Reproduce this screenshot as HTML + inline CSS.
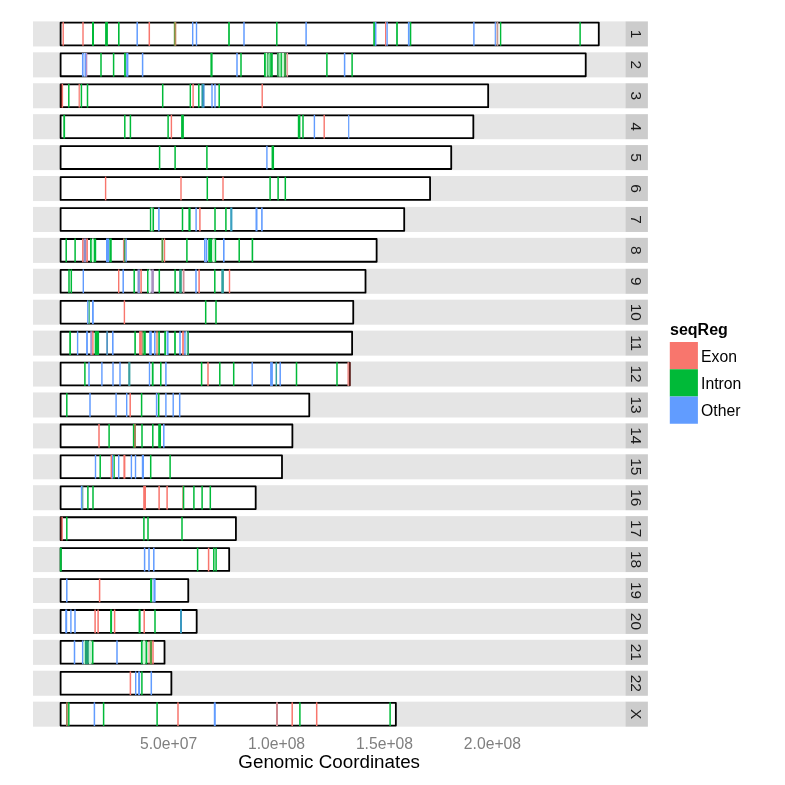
<!DOCTYPE html>
<html><head><meta charset="utf-8"><style>
html,body{margin:0;padding:0;background:#fff;}
body{width:785px;height:785px;overflow:hidden;}
svg{display:block;}
text{font-family:"Liberation Sans",Arial,sans-serif;}
.st{font-size:15.4px;fill:#1a1a1a;text-anchor:middle;dominant-baseline:central;}
.ax{font-size:15.7px;fill:#7F7F7F;text-anchor:middle;}
.ti{font-size:18.8px;fill:#000;text-anchor:middle;}
.lt{font-size:16px;font-weight:bold;fill:#000;}
.ll{font-size:15.75px;fill:#000;}
</style></head><body>
<svg width="785" height="785" viewBox="0 0 785 785">
<rect x="0" y="0" width="785" height="785" fill="#fff"/>
<rect x="33.0" y="21.40" width="592.40" height="25.05" fill="#E5E5E5"/>
<rect x="625.4" y="21.40" width="22.5" height="25.05" fill="#CCCCCC"/>
<text x="636.65" y="33.92" transform="rotate(90 636.65 33.92)" class="st">1</text>
<rect x="60.60" y="22.54" width="538.18" height="22.77" fill="#fff" stroke="#000" stroke-width="1.8" stroke-linejoin="round"/>
<rect x="62.50" y="22.04" width="1.40" height="23.77" fill="#F8766D"/>
<rect x="82.30" y="22.04" width="1.40" height="23.77" fill="#F8766D"/>
<rect x="92.00" y="22.04" width="2.00" height="23.77" fill="#00BA38"/>
<rect x="105.10" y="22.04" width="2.80" height="23.77" fill="#00BA38"/>
<rect x="118.00" y="22.04" width="1.60" height="23.77" fill="#00BA38"/>
<rect x="136.45" y="22.04" width="1.50" height="23.77" fill="#619CFF"/>
<rect x="148.55" y="22.04" width="1.50" height="23.77" fill="#F8766D"/>
<rect x="173.80" y="22.04" width="1.40" height="23.77" fill="#6f9a45"/>
<rect x="174.90" y="22.04" width="1.40" height="23.77" fill="#b98a5a"/>
<rect x="192.00" y="22.04" width="1.40" height="23.77" fill="#619CFF"/>
<rect x="195.80" y="22.04" width="1.40" height="23.77" fill="#619CFF"/>
<rect x="228.15" y="22.04" width="1.70" height="23.77" fill="#00BA38"/>
<rect x="243.25" y="22.04" width="1.50" height="23.77" fill="#619CFF"/>
<rect x="276.05" y="22.04" width="1.50" height="23.77" fill="#00BA38"/>
<rect x="305.35" y="22.04" width="1.50" height="23.77" fill="#619CFF"/>
<rect x="373.25" y="22.04" width="1.70" height="23.77" fill="#00BA38"/>
<rect x="374.95" y="22.04" width="1.50" height="23.77" fill="#619CFF"/>
<rect x="385.00" y="22.04" width="1.20" height="23.77" fill="#F8766D"/>
<rect x="386.40" y="22.04" width="1.40" height="23.77" fill="#619CFF"/>
<rect x="396.15" y="22.04" width="1.70" height="23.77" fill="#00BA38"/>
<rect x="407.90" y="22.04" width="1.80" height="23.77" fill="#619CFF"/>
<rect x="409.90" y="22.04" width="1.40" height="23.77" fill="#00BA38"/>
<rect x="473.20" y="22.04" width="1.40" height="23.77" fill="#619CFF"/>
<rect x="494.70" y="22.04" width="1.20" height="23.77" fill="#619CFF"/>
<rect x="496.50" y="22.04" width="1.80" height="23.77" fill="#c79a95"/>
<rect x="499.90" y="22.04" width="1.40" height="23.77" fill="#00BA38"/>
<rect x="579.35" y="22.04" width="1.50" height="23.77" fill="#00BA38"/>
<rect x="33.0" y="52.32" width="592.40" height="25.05" fill="#E5E5E5"/>
<rect x="625.4" y="52.32" width="22.5" height="25.05" fill="#CCCCCC"/>
<text x="636.65" y="64.84" transform="rotate(90 636.65 64.84)" class="st">2</text>
<rect x="60.60" y="53.46" width="525.12" height="22.77" fill="#fff" stroke="#000" stroke-width="1.8" stroke-linejoin="round"/>
<rect x="81.95" y="52.96" width="1.70" height="23.77" fill="#619CFF"/>
<rect x="83.70" y="52.96" width="1.40" height="23.77" fill="#b8d0ff"/>
<rect x="85.00" y="52.96" width="1.20" height="23.77" fill="#619CFF"/>
<rect x="85.90" y="52.96" width="1.40" height="23.77" fill="#b58fc7"/>
<rect x="100.25" y="52.96" width="1.50" height="23.77" fill="#00BA38"/>
<rect x="112.85" y="52.96" width="1.50" height="23.77" fill="#00BA38"/>
<rect x="124.10" y="52.96" width="1.80" height="23.77" fill="#00BA38"/>
<rect x="126.20" y="52.96" width="2.20" height="23.77" fill="#619CFF"/>
<rect x="141.85" y="52.96" width="1.50" height="23.77" fill="#619CFF"/>
<rect x="210.40" y="52.96" width="2.20" height="23.77" fill="#00BA38"/>
<rect x="236.25" y="52.96" width="1.50" height="23.77" fill="#619CFF"/>
<rect x="240.25" y="52.96" width="1.50" height="23.77" fill="#00BA38"/>
<rect x="264.00" y="52.96" width="2.00" height="23.77" fill="#00BA38"/>
<rect x="265.80" y="52.96" width="1.60" height="23.77" fill="#c8f4d2"/>
<rect x="267.20" y="52.96" width="1.20" height="23.77" fill="#30a050"/>
<rect x="268.40" y="52.96" width="1.80" height="23.77" fill="#70e090"/>
<rect x="270.20" y="52.96" width="2.60" height="23.77" fill="#00BA38"/>
<rect x="276.95" y="52.96" width="1.90" height="23.77" fill="#30a050"/>
<rect x="278.80" y="52.96" width="2.20" height="23.77" fill="#90eca8"/>
<rect x="280.80" y="52.96" width="1.20" height="23.77" fill="#00BA38"/>
<rect x="281.90" y="52.96" width="2.20" height="23.77" fill="#c8f4d2"/>
<rect x="284.10" y="52.96" width="2.20" height="23.77" fill="#30a040"/>
<rect x="286.55" y="52.96" width="1.50" height="23.77" fill="#f0a0a0"/>
<rect x="326.15" y="52.96" width="1.50" height="23.77" fill="#00BA38"/>
<rect x="343.85" y="52.96" width="1.50" height="23.77" fill="#619CFF"/>
<rect x="351.35" y="52.96" width="1.50" height="23.77" fill="#00BA38"/>
<rect x="33.0" y="83.24" width="592.40" height="25.05" fill="#E5E5E5"/>
<rect x="625.4" y="83.24" width="22.5" height="25.05" fill="#CCCCCC"/>
<text x="636.65" y="95.77" transform="rotate(90 636.65 95.77)" class="st">3</text>
<rect x="60.60" y="84.38" width="427.57" height="22.77" fill="#fff" stroke="#000" stroke-width="1.8" stroke-linejoin="round"/>
<rect x="60.65" y="83.88" width="1.70" height="23.77" fill="#5a1a15"/>
<rect x="61.90" y="83.88" width="1.20" height="23.77" fill="#F8766D"/>
<rect x="68.05" y="83.88" width="1.50" height="23.77" fill="#00BA38"/>
<rect x="78.60" y="83.88" width="1.20" height="23.77" fill="#F8766D"/>
<rect x="80.65" y="83.88" width="1.50" height="23.77" fill="#00BA38"/>
<rect x="86.75" y="83.88" width="1.50" height="23.77" fill="#00BA38"/>
<rect x="161.95" y="83.88" width="1.50" height="23.77" fill="#00BA38"/>
<rect x="189.60" y="83.88" width="1.40" height="23.77" fill="#00BA38"/>
<rect x="192.40" y="83.88" width="1.40" height="23.77" fill="#F8766D"/>
<rect x="198.05" y="83.88" width="1.50" height="23.77" fill="#00BA38"/>
<rect x="201.45" y="83.88" width="1.70" height="23.77" fill="#2a9a9a"/>
<rect x="202.85" y="83.88" width="1.70" height="23.77" fill="#3e8fd0"/>
<rect x="211.30" y="83.88" width="1.40" height="23.77" fill="#619CFF"/>
<rect x="214.30" y="83.88" width="1.40" height="23.77" fill="#619CFF"/>
<rect x="218.45" y="83.88" width="1.50" height="23.77" fill="#00BA38"/>
<rect x="261.50" y="83.88" width="1.40" height="23.77" fill="#F8766D"/>
<rect x="33.0" y="114.16" width="592.40" height="25.05" fill="#E5E5E5"/>
<rect x="625.4" y="114.16" width="22.5" height="25.05" fill="#CCCCCC"/>
<text x="636.65" y="126.69" transform="rotate(90 636.65 126.69)" class="st">4</text>
<rect x="60.60" y="115.30" width="412.74" height="22.77" fill="#fff" stroke="#000" stroke-width="1.8" stroke-linejoin="round"/>
<rect x="63.30" y="114.80" width="1.80" height="23.77" fill="#00BA38"/>
<rect x="124.05" y="114.80" width="1.50" height="23.77" fill="#00BA38"/>
<rect x="129.65" y="114.80" width="1.50" height="23.77" fill="#00BA38"/>
<rect x="167.35" y="114.80" width="1.50" height="23.77" fill="#00BA38"/>
<rect x="170.70" y="114.80" width="1.40" height="23.77" fill="#F8766D"/>
<rect x="181.10" y="114.80" width="2.80" height="23.77" fill="#00BA38"/>
<rect x="297.80" y="114.80" width="2.60" height="23.77" fill="#00BA38"/>
<rect x="302.25" y="114.80" width="1.50" height="23.77" fill="#00BA38"/>
<rect x="313.70" y="114.80" width="1.40" height="23.77" fill="#619CFF"/>
<rect x="323.50" y="114.80" width="1.40" height="23.77" fill="#F8766D"/>
<rect x="348.10" y="114.80" width="1.20" height="23.77" fill="#619CFF"/>
<rect x="33.0" y="145.08" width="592.40" height="25.05" fill="#E5E5E5"/>
<rect x="625.4" y="145.08" width="22.5" height="25.05" fill="#CCCCCC"/>
<text x="636.65" y="157.61" transform="rotate(90 636.65 157.61)" class="st">5</text>
<rect x="60.60" y="146.22" width="390.63" height="22.77" fill="#fff" stroke="#000" stroke-width="1.8" stroke-linejoin="round"/>
<rect x="158.85" y="145.72" width="1.50" height="23.77" fill="#00BA38"/>
<rect x="174.35" y="145.72" width="1.50" height="23.77" fill="#00BA38"/>
<rect x="206.15" y="145.72" width="1.50" height="23.77" fill="#00BA38"/>
<rect x="266.20" y="145.72" width="1.40" height="23.77" fill="#619CFF"/>
<rect x="271.55" y="145.72" width="2.50" height="23.77" fill="#00BA38"/>
<rect x="33.0" y="176.00" width="592.40" height="25.05" fill="#E5E5E5"/>
<rect x="625.4" y="176.00" width="22.5" height="25.05" fill="#CCCCCC"/>
<text x="636.65" y="188.53" transform="rotate(90 636.65 188.53)" class="st">6</text>
<rect x="60.60" y="177.14" width="369.47" height="22.77" fill="#fff" stroke="#000" stroke-width="1.8" stroke-linejoin="round"/>
<rect x="104.90" y="176.64" width="1.40" height="23.77" fill="#F8766D"/>
<rect x="180.30" y="176.64" width="1.40" height="23.77" fill="#F8766D"/>
<rect x="206.55" y="176.64" width="1.50" height="23.77" fill="#00BA38"/>
<rect x="222.30" y="176.64" width="1.40" height="23.77" fill="#F8766D"/>
<rect x="269.35" y="176.64" width="1.50" height="23.77" fill="#00BA38"/>
<rect x="277.35" y="176.64" width="1.50" height="23.77" fill="#00BA38"/>
<rect x="284.55" y="176.64" width="1.50" height="23.77" fill="#00BA38"/>
<rect x="33.0" y="206.92" width="592.40" height="25.05" fill="#E5E5E5"/>
<rect x="625.4" y="206.92" width="22.5" height="25.05" fill="#CCCCCC"/>
<text x="636.65" y="219.45" transform="rotate(90 636.65 219.45)" class="st">7</text>
<rect x="60.60" y="208.06" width="343.61" height="22.77" fill="#fff" stroke="#000" stroke-width="1.8" stroke-linejoin="round"/>
<rect x="149.85" y="207.56" width="1.50" height="23.77" fill="#00BA38"/>
<rect x="151.30" y="207.56" width="1.40" height="23.77" fill="#c8f4d2"/>
<rect x="152.55" y="207.56" width="1.50" height="23.77" fill="#00BA38"/>
<rect x="158.15" y="207.56" width="1.50" height="23.77" fill="#619CFF"/>
<rect x="181.75" y="207.56" width="1.50" height="23.77" fill="#00BA38"/>
<rect x="188.40" y="207.56" width="2.20" height="23.77" fill="#00BA38"/>
<rect x="195.40" y="207.56" width="1.40" height="23.77" fill="#619CFF"/>
<rect x="199.15" y="207.56" width="1.50" height="23.77" fill="#F8766D"/>
<rect x="214.25" y="207.56" width="1.50" height="23.77" fill="#00BA38"/>
<rect x="225.15" y="207.56" width="1.50" height="23.77" fill="#00BA38"/>
<rect x="230.20" y="207.56" width="2.20" height="23.77" fill="#3aa0c0"/>
<rect x="255.50" y="207.56" width="2.00" height="23.77" fill="#619CFF"/>
<rect x="261.10" y="207.56" width="1.60" height="23.77" fill="#619CFF"/>
<rect x="33.0" y="237.84" width="592.40" height="25.05" fill="#E5E5E5"/>
<rect x="625.4" y="237.84" width="22.5" height="25.05" fill="#CCCCCC"/>
<text x="636.65" y="250.37" transform="rotate(90 636.65 250.37)" class="st">8</text>
<rect x="60.60" y="238.98" width="316.03" height="22.77" fill="#fff" stroke="#000" stroke-width="1.8" stroke-linejoin="round"/>
<rect x="65.45" y="238.48" width="1.50" height="23.77" fill="#00BA38"/>
<rect x="74.35" y="238.48" width="1.50" height="23.77" fill="#00BA38"/>
<rect x="82.10" y="238.48" width="1.60" height="23.77" fill="#F8766D"/>
<rect x="83.70" y="238.48" width="2.60" height="23.77" fill="#8c8fc8"/>
<rect x="86.30" y="238.48" width="1.60" height="23.77" fill="#F8766D"/>
<rect x="90.05" y="238.48" width="1.70" height="23.77" fill="#00BA38"/>
<rect x="92.00" y="238.48" width="1.80" height="23.77" fill="#d4f7dc"/>
<rect x="93.80" y="238.48" width="2.40" height="23.77" fill="#00BA38"/>
<rect x="106.00" y="238.48" width="3.40" height="23.77" fill="#619CFF"/>
<rect x="109.45" y="238.48" width="2.30" height="23.77" fill="#00BA38"/>
<rect x="122.95" y="238.48" width="0.90" height="23.77" fill="#F8766D"/>
<rect x="123.85" y="238.48" width="1.70" height="23.77" fill="#4a9a50"/>
<rect x="125.65" y="238.48" width="1.10" height="23.77" fill="#619CFF"/>
<rect x="161.45" y="238.48" width="1.90" height="23.77" fill="#5a9a45"/>
<rect x="164.00" y="238.48" width="1.20" height="23.77" fill="#F8766D"/>
<rect x="186.15" y="238.48" width="1.50" height="23.77" fill="#00BA38"/>
<rect x="204.00" y="238.48" width="1.40" height="23.77" fill="#619CFF"/>
<rect x="205.20" y="238.48" width="1.00" height="23.77" fill="#a8c4ff"/>
<rect x="205.90" y="238.48" width="1.40" height="23.77" fill="#619CFF"/>
<rect x="208.00" y="238.48" width="1.20" height="23.77" fill="#40c060"/>
<rect x="209.00" y="238.48" width="3.20" height="23.77" fill="#00BA38"/>
<rect x="212.40" y="238.48" width="2.40" height="23.77" fill="#d4f7dc"/>
<rect x="214.80" y="238.48" width="1.40" height="23.77" fill="#00BA38"/>
<rect x="223.00" y="238.48" width="1.60" height="23.77" fill="#619CFF"/>
<rect x="238.45" y="238.48" width="1.50" height="23.77" fill="#00BA38"/>
<rect x="251.60" y="238.48" width="1.60" height="23.77" fill="#00BA38"/>
<rect x="33.0" y="268.76" width="592.40" height="25.05" fill="#E5E5E5"/>
<rect x="625.4" y="268.76" width="22.5" height="25.05" fill="#CCCCCC"/>
<text x="636.65" y="281.28" transform="rotate(90 636.65 281.28)" class="st">9</text>
<rect x="60.60" y="269.90" width="304.91" height="22.77" fill="#fff" stroke="#000" stroke-width="1.8" stroke-linejoin="round"/>
<rect x="68.25" y="269.40" width="1.50" height="23.77" fill="#00BA38"/>
<rect x="70.55" y="269.40" width="1.50" height="23.77" fill="#00BA38"/>
<rect x="82.60" y="269.40" width="1.40" height="23.77" fill="#619CFF"/>
<rect x="118.00" y="269.40" width="1.40" height="23.77" fill="#F8766D"/>
<rect x="122.45" y="269.40" width="1.50" height="23.77" fill="#619CFF"/>
<rect x="133.45" y="269.40" width="1.50" height="23.77" fill="#00BA38"/>
<rect x="137.50" y="269.40" width="2.40" height="23.77" fill="#8a8fd8"/>
<rect x="140.35" y="269.40" width="1.50" height="23.77" fill="#F8766D"/>
<rect x="147.05" y="269.40" width="1.50" height="23.77" fill="#00BA38"/>
<rect x="148.90" y="269.40" width="1.80" height="23.77" fill="#e4f8ff"/>
<rect x="151.30" y="269.40" width="2.60" height="23.77" fill="#a890c0"/>
<rect x="158.55" y="269.40" width="1.50" height="23.77" fill="#00BA38"/>
<rect x="174.35" y="269.40" width="1.50" height="23.77" fill="#00BA38"/>
<rect x="179.20" y="269.40" width="2.60" height="23.77" fill="#2aa080"/>
<rect x="182.70" y="269.40" width="1.80" height="23.77" fill="#d09098"/>
<rect x="195.25" y="269.40" width="1.50" height="23.77" fill="#619CFF"/>
<rect x="198.35" y="269.40" width="1.50" height="23.77" fill="#F8766D"/>
<rect x="214.05" y="269.40" width="1.50" height="23.77" fill="#00BA38"/>
<rect x="221.30" y="269.40" width="2.60" height="23.77" fill="#30a0a0"/>
<rect x="228.80" y="269.40" width="1.40" height="23.77" fill="#F8766D"/>
<rect x="33.0" y="299.68" width="592.40" height="25.05" fill="#E5E5E5"/>
<rect x="625.4" y="299.68" width="22.5" height="25.05" fill="#CCCCCC"/>
<text x="636.65" y="312.20" transform="rotate(90 636.65 312.20)" class="st">10</text>
<rect x="60.60" y="300.82" width="292.65" height="22.77" fill="#fff" stroke="#000" stroke-width="1.8" stroke-linejoin="round"/>
<rect x="87.10" y="300.32" width="1.40" height="23.77" fill="#619CFF"/>
<rect x="88.60" y="300.32" width="1.20" height="23.77" fill="#30b070"/>
<rect x="92.00" y="300.32" width="1.80" height="23.77" fill="#619CFF"/>
<rect x="123.70" y="300.32" width="1.40" height="23.77" fill="#F8766D"/>
<rect x="204.95" y="300.32" width="1.50" height="23.77" fill="#00BA38"/>
<rect x="215.25" y="300.32" width="1.50" height="23.77" fill="#00BA38"/>
<rect x="33.0" y="330.60" width="592.40" height="25.05" fill="#E5E5E5"/>
<rect x="625.4" y="330.60" width="22.5" height="25.05" fill="#CCCCCC"/>
<text x="636.65" y="343.12" transform="rotate(90 636.65 343.12)" class="st">11</text>
<rect x="60.60" y="331.74" width="291.51" height="22.77" fill="#fff" stroke="#000" stroke-width="1.8" stroke-linejoin="round"/>
<rect x="69.25" y="331.24" width="1.70" height="23.77" fill="#00BA38"/>
<rect x="76.90" y="331.24" width="1.40" height="23.77" fill="#619CFF"/>
<rect x="86.10" y="331.24" width="1.80" height="23.77" fill="#619CFF"/>
<rect x="90.25" y="331.24" width="1.70" height="23.77" fill="#a090d0"/>
<rect x="92.20" y="331.24" width="1.40" height="23.77" fill="#F8766D"/>
<rect x="94.70" y="331.24" width="4.40" height="23.77" fill="#00BA38"/>
<rect x="106.25" y="331.24" width="1.70" height="23.77" fill="#4a90c0"/>
<rect x="112.00" y="331.24" width="1.60" height="23.77" fill="#619CFF"/>
<rect x="134.30" y="331.24" width="1.60" height="23.77" fill="#00BA38"/>
<rect x="139.10" y="331.24" width="2.80" height="23.77" fill="#F8766D"/>
<rect x="142.20" y="331.24" width="1.00" height="23.77" fill="#8a9a50"/>
<rect x="143.40" y="331.24" width="2.40" height="23.77" fill="#00BA38"/>
<rect x="149.20" y="331.24" width="2.60" height="23.77" fill="#619CFF"/>
<rect x="154.05" y="331.24" width="1.50" height="23.77" fill="#619CFF"/>
<rect x="156.30" y="331.24" width="1.40" height="23.77" fill="#e08a60"/>
<rect x="158.25" y="331.24" width="1.70" height="23.77" fill="#00BA38"/>
<rect x="164.25" y="331.24" width="1.70" height="23.77" fill="#00BA38"/>
<rect x="166.00" y="331.24" width="1.20" height="23.77" fill="#c0dcff"/>
<rect x="167.05" y="331.24" width="1.50" height="23.77" fill="#619CFF"/>
<rect x="174.15" y="331.24" width="1.70" height="23.77" fill="#00BA38"/>
<rect x="179.25" y="331.24" width="1.50" height="23.77" fill="#619CFF"/>
<rect x="182.15" y="331.24" width="1.70" height="23.77" fill="#F8766D"/>
<rect x="184.25" y="331.24" width="1.50" height="23.77" fill="#619CFF"/>
<rect x="185.80" y="331.24" width="1.20" height="23.77" fill="#c0f0e0"/>
<rect x="187.25" y="331.24" width="1.70" height="23.77" fill="#20a060"/>
<rect x="33.0" y="361.52" width="592.40" height="25.05" fill="#E5E5E5"/>
<rect x="625.4" y="361.52" width="22.5" height="25.05" fill="#CCCCCC"/>
<text x="636.65" y="374.04" transform="rotate(90 636.65 374.04)" class="st">12</text>
<rect x="60.60" y="362.66" width="289.01" height="22.77" fill="#fff" stroke="#000" stroke-width="1.8" stroke-linejoin="round"/>
<rect x="84.15" y="362.16" width="1.50" height="23.77" fill="#00BA38"/>
<rect x="88.25" y="362.16" width="1.50" height="23.77" fill="#619CFF"/>
<rect x="101.20" y="362.16" width="1.40" height="23.77" fill="#619CFF"/>
<rect x="112.30" y="362.16" width="1.40" height="23.77" fill="#619CFF"/>
<rect x="119.30" y="362.16" width="1.40" height="23.77" fill="#619CFF"/>
<rect x="128.20" y="362.16" width="2.20" height="23.77" fill="#3aa0a0"/>
<rect x="148.80" y="362.16" width="1.40" height="23.77" fill="#619CFF"/>
<rect x="151.80" y="362.16" width="1.80" height="23.77" fill="#00BA38"/>
<rect x="160.05" y="362.16" width="1.50" height="23.77" fill="#00BA38"/>
<rect x="165.15" y="362.16" width="1.50" height="23.77" fill="#619CFF"/>
<rect x="200.85" y="362.16" width="1.50" height="23.77" fill="#00BA38"/>
<rect x="207.25" y="362.16" width="1.50" height="23.77" fill="#F8766D"/>
<rect x="219.05" y="362.16" width="1.50" height="23.77" fill="#00BA38"/>
<rect x="232.95" y="362.16" width="1.50" height="23.77" fill="#00BA38"/>
<rect x="251.50" y="362.16" width="1.40" height="23.77" fill="#619CFF"/>
<rect x="270.10" y="362.16" width="2.80" height="23.77" fill="#619CFF"/>
<rect x="275.55" y="362.16" width="1.50" height="23.77" fill="#3aa0a0"/>
<rect x="279.45" y="362.16" width="1.50" height="23.77" fill="#619CFF"/>
<rect x="295.75" y="362.16" width="1.50" height="23.77" fill="#00BA38"/>
<rect x="336.25" y="362.16" width="1.50" height="23.77" fill="#00BA38"/>
<rect x="347.40" y="362.16" width="1.60" height="23.77" fill="#e88a85"/>
<rect x="349.20" y="362.16" width="1.40" height="23.77" fill="#7a2a25"/>
<rect x="33.0" y="392.44" width="592.40" height="25.05" fill="#E5E5E5"/>
<rect x="625.4" y="392.44" width="22.5" height="25.05" fill="#CCCCCC"/>
<text x="636.65" y="404.96" transform="rotate(90 636.65 404.96)" class="st">13</text>
<rect x="60.60" y="393.58" width="248.67" height="22.77" fill="#fff" stroke="#000" stroke-width="1.8" stroke-linejoin="round"/>
<rect x="66.05" y="393.08" width="1.50" height="23.77" fill="#00BA38"/>
<rect x="89.25" y="393.08" width="1.50" height="23.77" fill="#619CFF"/>
<rect x="115.40" y="393.08" width="1.40" height="23.77" fill="#619CFF"/>
<rect x="126.00" y="393.08" width="1.40" height="23.77" fill="#619CFF"/>
<rect x="129.45" y="393.08" width="1.50" height="23.77" fill="#F8766D"/>
<rect x="140.85" y="393.08" width="1.50" height="23.77" fill="#00BA38"/>
<rect x="155.85" y="393.08" width="1.50" height="23.77" fill="#619CFF"/>
<rect x="157.95" y="393.08" width="1.50" height="23.77" fill="#00BA38"/>
<rect x="165.20" y="393.08" width="1.40" height="23.77" fill="#619CFF"/>
<rect x="172.50" y="393.08" width="1.40" height="23.77" fill="#619CFF"/>
<rect x="178.95" y="393.08" width="1.50" height="23.77" fill="#619CFF"/>
<rect x="33.0" y="423.36" width="592.40" height="25.05" fill="#E5E5E5"/>
<rect x="625.4" y="423.36" width="22.5" height="25.05" fill="#CCCCCC"/>
<text x="636.65" y="435.88" transform="rotate(90 636.65 435.88)" class="st">14</text>
<rect x="60.60" y="424.50" width="231.79" height="22.77" fill="#fff" stroke="#000" stroke-width="1.8" stroke-linejoin="round"/>
<rect x="98.25" y="424.00" width="1.50" height="23.77" fill="#F8766D"/>
<rect x="108.35" y="424.00" width="1.50" height="23.77" fill="#00BA38"/>
<rect x="132.85" y="424.00" width="1.50" height="23.77" fill="#00BA38"/>
<rect x="134.10" y="424.00" width="1.80" height="23.77" fill="#9a7a4a"/>
<rect x="141.25" y="424.00" width="1.50" height="23.77" fill="#00BA38"/>
<rect x="152.05" y="424.00" width="1.50" height="23.77" fill="#00BA38"/>
<rect x="158.20" y="424.00" width="2.80" height="23.77" fill="#00BA38"/>
<rect x="163.05" y="424.00" width="1.50" height="23.77" fill="#619CFF"/>
<rect x="33.0" y="454.28" width="592.40" height="25.05" fill="#E5E5E5"/>
<rect x="625.4" y="454.28" width="22.5" height="25.05" fill="#CCCCCC"/>
<text x="636.65" y="466.80" transform="rotate(90 636.65 466.80)" class="st">15</text>
<rect x="60.60" y="455.42" width="221.39" height="22.77" fill="#fff" stroke="#000" stroke-width="1.8" stroke-linejoin="round"/>
<rect x="94.80" y="454.92" width="1.40" height="23.77" fill="#619CFF"/>
<rect x="99.45" y="454.92" width="1.50" height="23.77" fill="#00BA38"/>
<rect x="110.60" y="454.92" width="1.40" height="23.77" fill="#F8766D"/>
<rect x="112.00" y="454.92" width="1.40" height="23.77" fill="#619CFF"/>
<rect x="113.60" y="454.92" width="1.20" height="23.77" fill="#00BA38"/>
<rect x="118.00" y="454.92" width="1.40" height="23.77" fill="#619CFF"/>
<rect x="123.40" y="454.92" width="2.00" height="23.77" fill="#F8766D"/>
<rect x="130.70" y="454.92" width="1.40" height="23.77" fill="#619CFF"/>
<rect x="134.80" y="454.92" width="1.40" height="23.77" fill="#619CFF"/>
<rect x="141.80" y="454.92" width="2.20" height="23.77" fill="#619CFF"/>
<rect x="149.95" y="454.92" width="1.50" height="23.77" fill="#00BA38"/>
<rect x="169.35" y="454.92" width="1.50" height="23.77" fill="#00BA38"/>
<rect x="33.0" y="485.20" width="592.40" height="25.05" fill="#E5E5E5"/>
<rect x="625.4" y="485.20" width="22.5" height="25.05" fill="#CCCCCC"/>
<text x="636.65" y="497.72" transform="rotate(90 636.65 497.72)" class="st">16</text>
<rect x="60.60" y="486.34" width="195.09" height="22.77" fill="#fff" stroke="#000" stroke-width="1.8" stroke-linejoin="round"/>
<rect x="80.85" y="485.84" width="1.50" height="23.77" fill="#619CFF"/>
<rect x="82.30" y="485.84" width="1.00" height="23.77" fill="#4aa090"/>
<rect x="87.15" y="485.84" width="1.50" height="23.77" fill="#00BA38"/>
<rect x="92.25" y="485.84" width="1.50" height="23.77" fill="#00BA38"/>
<rect x="143.20" y="485.84" width="2.80" height="23.77" fill="#F8766D"/>
<rect x="158.35" y="485.84" width="1.50" height="23.77" fill="#F8766D"/>
<rect x="166.35" y="485.84" width="1.50" height="23.77" fill="#F8766D"/>
<rect x="182.40" y="485.84" width="1.00" height="23.77" fill="#c07050"/>
<rect x="182.90" y="485.84" width="1.40" height="23.77" fill="#00BA38"/>
<rect x="193.15" y="485.84" width="1.50" height="23.77" fill="#00BA38"/>
<rect x="201.35" y="485.84" width="1.50" height="23.77" fill="#00BA38"/>
<rect x="209.55" y="485.84" width="1.50" height="23.77" fill="#00BA38"/>
<rect x="33.0" y="516.12" width="592.40" height="25.05" fill="#E5E5E5"/>
<rect x="625.4" y="516.12" width="22.5" height="25.05" fill="#CCCCCC"/>
<text x="636.65" y="528.64" transform="rotate(90 636.65 528.64)" class="st">17</text>
<rect x="60.60" y="517.26" width="175.32" height="22.77" fill="#fff" stroke="#000" stroke-width="1.8" stroke-linejoin="round"/>
<rect x="60.40" y="516.76" width="1.60" height="23.77" fill="#5a1a15"/>
<rect x="61.60" y="516.76" width="1.20" height="23.77" fill="#F8766D"/>
<rect x="66.05" y="516.76" width="1.50" height="23.77" fill="#00BA38"/>
<rect x="143.15" y="516.76" width="1.50" height="23.77" fill="#00BA38"/>
<rect x="147.25" y="516.76" width="1.50" height="23.77" fill="#00BA38"/>
<rect x="181.25" y="516.76" width="1.50" height="23.77" fill="#00BA38"/>
<rect x="33.0" y="547.04" width="592.40" height="25.05" fill="#E5E5E5"/>
<rect x="625.4" y="547.04" width="22.5" height="25.05" fill="#CCCCCC"/>
<text x="636.65" y="559.56" transform="rotate(90 636.65 559.56)" class="st">18</text>
<rect x="60.60" y="548.18" width="168.58" height="22.77" fill="#fff" stroke="#000" stroke-width="1.8" stroke-linejoin="round"/>
<rect x="59.80" y="547.68" width="2.00" height="23.77" fill="#00BA38"/>
<rect x="143.85" y="547.68" width="1.50" height="23.77" fill="#619CFF"/>
<rect x="148.25" y="547.68" width="1.50" height="23.77" fill="#619CFF"/>
<rect x="153.05" y="547.68" width="1.50" height="23.77" fill="#619CFF"/>
<rect x="196.85" y="547.68" width="1.50" height="23.77" fill="#00BA38"/>
<rect x="207.85" y="547.68" width="1.50" height="23.77" fill="#F8766D"/>
<rect x="213.05" y="547.68" width="1.50" height="23.77" fill="#00BA38"/>
<rect x="215.35" y="547.68" width="1.50" height="23.77" fill="#00BA38"/>
<rect x="33.0" y="577.96" width="592.40" height="25.05" fill="#E5E5E5"/>
<rect x="625.4" y="577.96" width="22.5" height="25.05" fill="#CCCCCC"/>
<text x="636.65" y="590.49" transform="rotate(90 636.65 590.49)" class="st">19</text>
<rect x="60.60" y="579.10" width="127.67" height="22.77" fill="#fff" stroke="#000" stroke-width="1.8" stroke-linejoin="round"/>
<rect x="66.05" y="578.60" width="1.50" height="23.77" fill="#619CFF"/>
<rect x="98.85" y="578.60" width="1.50" height="23.77" fill="#F8766D"/>
<rect x="150.10" y="578.60" width="2.00" height="23.77" fill="#00BA38"/>
<rect x="152.30" y="578.60" width="1.40" height="23.77" fill="#b8d0ff"/>
<rect x="153.60" y="578.60" width="2.00" height="23.77" fill="#619CFF"/>
<rect x="33.0" y="608.88" width="592.40" height="25.05" fill="#E5E5E5"/>
<rect x="625.4" y="608.88" width="22.5" height="25.05" fill="#CCCCCC"/>
<text x="636.65" y="621.40" transform="rotate(90 636.65 621.40)" class="st">20</text>
<rect x="60.60" y="610.02" width="136.08" height="22.77" fill="#fff" stroke="#000" stroke-width="1.8" stroke-linejoin="round"/>
<rect x="65.20" y="609.52" width="2.00" height="23.77" fill="#619CFF"/>
<rect x="70.20" y="609.52" width="1.40" height="23.77" fill="#619CFF"/>
<rect x="74.25" y="609.52" width="1.50" height="23.77" fill="#619CFF"/>
<rect x="94.35" y="609.52" width="1.50" height="23.77" fill="#F8766D"/>
<rect x="97.35" y="609.52" width="1.50" height="23.77" fill="#F8766D"/>
<rect x="110.10" y="609.52" width="2.00" height="23.77" fill="#00BA38"/>
<rect x="113.85" y="609.52" width="1.50" height="23.77" fill="#F8766D"/>
<rect x="138.60" y="609.52" width="2.00" height="23.77" fill="#00BA38"/>
<rect x="143.45" y="609.52" width="1.50" height="23.77" fill="#F8766D"/>
<rect x="154.25" y="609.52" width="1.50" height="23.77" fill="#00BA38"/>
<rect x="180.00" y="609.52" width="2.00" height="23.77" fill="#3a98c0"/>
<rect x="33.0" y="639.80" width="592.40" height="25.05" fill="#E5E5E5"/>
<rect x="625.4" y="639.80" width="22.5" height="25.05" fill="#CCCCCC"/>
<text x="636.65" y="652.33" transform="rotate(90 636.65 652.33)" class="st">21</text>
<rect x="60.60" y="640.94" width="103.92" height="22.77" fill="#fff" stroke="#000" stroke-width="1.8" stroke-linejoin="round"/>
<rect x="73.75" y="640.44" width="1.50" height="23.77" fill="#619CFF"/>
<rect x="81.95" y="640.44" width="1.50" height="23.77" fill="#619CFF"/>
<rect x="83.60" y="640.44" width="1.40" height="23.77" fill="#b8f0c8"/>
<rect x="85.00" y="640.44" width="3.80" height="23.77" fill="#20a070"/>
<rect x="89.00" y="640.44" width="2.60" height="23.77" fill="#c0f4d0"/>
<rect x="91.90" y="640.44" width="1.60" height="23.77" fill="#00BA38"/>
<rect x="116.25" y="640.44" width="1.50" height="23.77" fill="#619CFF"/>
<rect x="140.90" y="640.44" width="1.80" height="23.77" fill="#00BA38"/>
<rect x="142.90" y="640.44" width="2.60" height="23.77" fill="#d0f4d8"/>
<rect x="145.50" y="640.44" width="1.80" height="23.77" fill="#00BA38"/>
<rect x="148.55" y="640.44" width="0.90" height="23.77" fill="#F8766D"/>
<rect x="149.80" y="640.44" width="2.20" height="23.77" fill="#5a9a40"/>
<rect x="152.25" y="640.44" width="1.50" height="23.77" fill="#F8766D"/>
<rect x="33.0" y="670.72" width="592.40" height="25.05" fill="#E5E5E5"/>
<rect x="625.4" y="670.72" width="22.5" height="25.05" fill="#CCCCCC"/>
<text x="636.65" y="683.25" transform="rotate(90 636.65 683.25)" class="st">22</text>
<rect x="60.60" y="671.86" width="110.78" height="22.77" fill="#fff" stroke="#000" stroke-width="1.8" stroke-linejoin="round"/>
<rect x="129.65" y="671.36" width="1.50" height="23.77" fill="#F8766D"/>
<rect x="135.00" y="671.36" width="1.40" height="23.77" fill="#619CFF"/>
<rect x="138.10" y="671.36" width="2.00" height="23.77" fill="#619CFF"/>
<rect x="141.15" y="671.36" width="1.50" height="23.77" fill="#00BA38"/>
<rect x="150.55" y="671.36" width="1.50" height="23.77" fill="#619CFF"/>
<rect x="33.0" y="701.64" width="592.40" height="25.05" fill="#E5E5E5"/>
<rect x="625.4" y="701.64" width="22.5" height="25.05" fill="#CCCCCC"/>
<text x="636.65" y="714.16" transform="rotate(90 636.65 714.16)" class="st">X</text>
<rect x="60.60" y="702.78" width="335.26" height="22.77" fill="#fff" stroke="#000" stroke-width="1.8" stroke-linejoin="round"/>
<rect x="66.05" y="702.28" width="1.70" height="23.77" fill="#a07a50"/>
<rect x="68.05" y="702.28" width="1.50" height="23.77" fill="#00BA38"/>
<rect x="93.65" y="702.28" width="1.50" height="23.77" fill="#619CFF"/>
<rect x="102.85" y="702.28" width="1.50" height="23.77" fill="#00BA38"/>
<rect x="156.35" y="702.28" width="1.50" height="23.77" fill="#00BA38"/>
<rect x="177.25" y="702.28" width="1.50" height="23.77" fill="#F8766D"/>
<rect x="213.80" y="702.28" width="2.00" height="23.77" fill="#619CFF"/>
<rect x="276.00" y="702.28" width="2.00" height="23.77" fill="#d08a90"/>
<rect x="291.45" y="702.28" width="1.50" height="23.77" fill="#F8766D"/>
<rect x="299.15" y="702.28" width="1.50" height="23.77" fill="#00BA38"/>
<rect x="315.95" y="702.28" width="1.50" height="23.77" fill="#F8766D"/>
<rect x="389.35" y="702.28" width="1.50" height="23.77" fill="#00BA38"/>
<text x="168.56" y="749" class="ax">5.0e+07</text>
<text x="276.52" y="749" class="ax">1.0e+08</text>
<text x="384.48" y="749" class="ax">1.5e+08</text>
<text x="492.44" y="749" class="ax">2.0e+08</text>
<text x="329.20" y="768.3" class="ti">Genomic Coordinates</text>
<text x="670.0" y="335.2" class="lt">seqReg</text>
<rect x="669.8" y="342.00" width="28.1" height="27.25" fill="#F8766D"/>
<text x="701.0" y="362.00" class="ll">Exon</text>
<rect x="669.8" y="369.25" width="28.1" height="27.25" fill="#00BA38"/>
<text x="701.0" y="388.90" class="ll">Intron</text>
<rect x="669.8" y="396.50" width="28.1" height="27.25" fill="#619CFF"/>
<text x="701.0" y="415.80" class="ll">Other</text>
</svg>
</body></html>
